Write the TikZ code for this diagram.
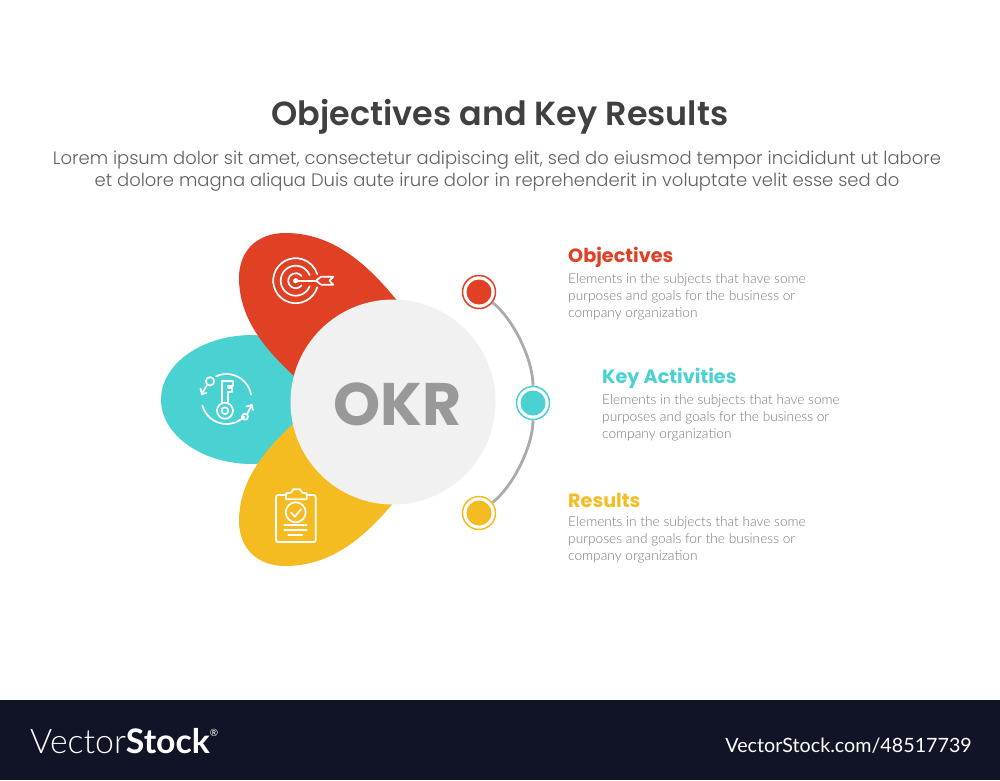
\documentclass[tikz,border=0pt]{standalone}
\usepackage{fontspec}
\setmainfont{Lato}
\newfontfamily\popb{Poppins}[UprightFont=* Bold]
\newfontfamily\pops{Poppins}[UprightFont=* SemiBold]
\newfontfamily\popl{Poppins}[UprightFont=* Light]
\newfontfamily\latol{Lato}[UprightFont=* Light]
\definecolor{cred}{HTML}{E04024}
\definecolor{cteal}{HTML}{4AD2D3}
\definecolor{cyel}{HTML}{F5BC22}
\definecolor{cgrey}{HTML}{F1F1F2}
\definecolor{cdark}{HTML}{111426}
\tikzset{
  x=1pt,y=-1pt,
  ring/.style={circle,draw=#1,line width=1.5pt,fill=white,minimum size=33pt,inner sep=0pt},
  dotin/.style={circle,fill=#1,minimum size=25pt,inner sep=0pt},
  head/.style={anchor=west,inner sep=0pt,font=\popb\fontsize{19.2}{19}\selectfont,text=#1},
  bodytext/.style={anchor=north west,inner sep=0pt,align=left,text=black!52,font=\latol\fontsize{13.7}{17}\selectfont},
  ico/.style={draw=white,line width=1.7pt,line cap=round,line join=round},
  arcline/.style={black!33,line width=2.8pt},
}
\begin{document}
\begin{tikzpicture}
\useasboundingbox (0,0) rectangle (1000,780);
\fill[white] (0,0) rectangle (1000,780);
\fill[cdark] (0,700) rectangle (1000,780);
\node[inner sep=0pt,text=black!75,font=\pops\fontsize{33.4}{33}\selectfont] (title) at (500,117) {Objectives and Key Results};
\node[inner sep=0pt,text=black!62,align=center,font=\popl\fontsize{17.97}{22}\selectfont] (sub) at (497,171.5) {Lorem ipsum dolor sit amet, consectetur adipiscing elit, sed do eiusmod tempor incididunt ut labore\\et dolore magna aliqua Duis aute irure dolor in reprehenderit in voluptate velit esse sed do};
% petals
\fill[cteal] (345,400) .. controls (320,350) and (280,335) .. (250,335) .. controls (200,336) and (161,365) .. (161,399.5) .. controls (161,434) and (200,463) .. (250,464) .. controls (280,464) and (320,450) .. (345,400) -- cycle;
\fill[cred] (345,420) .. controls (300,380) and (239,340) .. (239,278) .. controls (239,250) and (258,233) .. (285,233) .. controls (332,233) and (368,262) .. (406,312) -- cycle;
\fill[cyel] (345,379) .. controls (300,419) and (239,459) .. (239,521) .. controls (239,549) and (258,566) .. (285,566) .. controls (332,566) and (368,537) .. (406,487) -- cycle;
\node[circle,fill=cgrey,minimum size=205pt,inner sep=0pt] (hub) at (393,402) {};
\node[inner sep=0pt,text=black!40,font=\popb\fontsize{60}{60}\selectfont] (okr) at (397.5,404) {OKR};
% dots
\node[ring=cred] (d1) at (479,292) {};
\node[ring=cteal] (d2) at (533,403) {};
\node[ring=cyel] (d3) at (479,513) {};
\node[dotin=cred] (i1) at (d1) {};
\node[dotin=cteal] (i2) at (d2) {};
\node[dotin=cyel] (i3) at (d3) {};
\draw[arcline] (d1) .. controls (513,318.5) and (533,359.4) .. (d2);
\draw[arcline] (d2) .. controls (533,446) and (513,486.5) .. (d3);
% labels
\node[head=cred] (h1) at (568,257) {Objectives};
\node[bodytext] (b1) at (568,273) {Elements in the subjects that have some\\purposes and goals for the business or\\company organization};
\node[head=cteal] (h2) at (602,378) {Key Activities};
\node[bodytext] (b2) at (602,394) {Elements in the subjects that have some\\purposes and goals for the business or\\company organization};
\node[head=cyel] (h3) at (568,500) {Results};
\node[bodytext] (b3) at (568,516) {Elements in the subjects that have some\\purposes and goals for the business or\\company organization};
% target icon
\begin{scope}[ico]
\draw (295.7,280.7) ++(17:22.5) arc[start angle=17,end angle=343,radius=22.5];
\draw (295.7,280.7) ++(22:15) arc[start angle=22,end angle=338,radius=15];
\draw (295.7,280.7) ++(38:7.5) arc[start angle=38,end angle=322,radius=7.5];
\fill[white] (295.7,280.7) circle[radius=2.6];
\draw (295.7,280.7) -- (316,280.7);
\draw (316,280.7) -- (321,276.7) -- (333.3,276.7) -- (329.5,280.7) -- (333.3,284.7) -- (321,284.7) -- cycle;
\end{scope}
% key icon
\begin{scope}[ico]
\draw (225,410.7) circle[radius=8];
\draw (225,410.7) circle[radius=3.4];
\draw (222,403) -- (222,381) -- (233.3,381) -- (233.3,385.7) -- (228.3,385.7) -- (228.3,387.7) -- (232.3,387.7) -- (232.3,391.7) -- (228.3,391.7) -- (228.3,403);
\draw (226.5,399) ++(-115:25) arc[start angle=-115,end angle=-10,radius=25];
\draw (226.5,399) ++(165:25) arc[start angle=165,end angle=45,radius=25];
\draw (210,381.3) circle[radius=4.2];
\draw (207.3,384.6) -- (201.7,394);
\draw (200.5,388.5) -- (201.7,394) -- (206.5,393);
\draw (245,416.7) circle[radius=3];
\draw (247,414.4) -- (251.7,405);
\draw (246.5,406.5) -- (251.7,405) -- (253,410);
\end{scope}
% clipboard icon
\begin{scope}[ico]
\draw (286,495) -- (278,495) arc[start angle=-90,end angle=-180,radius=2] -- (276,540) arc[start angle=180,end angle=90,radius=2] -- (313.7,542) arc[start angle=90,end angle=0,radius=2] -- (315.7,497) arc[start angle=0,end angle=-90,radius=2] -- (306.7,495);
\draw (286,499.3) -- (286,493.3) -- (291,492.7) -- (293.3,489.3) -- (300,489.3) -- (302.3,492.7) -- (306.7,493.3) -- (306.7,499.3) -- cycle;
\draw (295.7,512.3) circle[radius=10];
\draw (291.2,512.8) -- (294.8,516.7) -- (301,509.3);
\draw (284.3,525) -- (306.7,525);
\draw (284.3,530) -- (306.7,530);
\draw (288.3,535.3) -- (302.3,535.3);
\end{scope}
% watermark
\node[anchor=base west,inner sep=0pt,text=white,font=\fontsize{33.8}{35}\selectfont] (wm) at (30,753) {{\latol Vector}{\bfseries Stock}\raisebox{17pt}{\fontsize{10}{10}\selectfont ®}};
\node[anchor=base east,inner sep=0pt,text=white,font=\fontsize{19.7}{20}\selectfont] (wm2) at (972,752.5) {VectorStock.com/48517739};
\end{tikzpicture}
\end{document}
